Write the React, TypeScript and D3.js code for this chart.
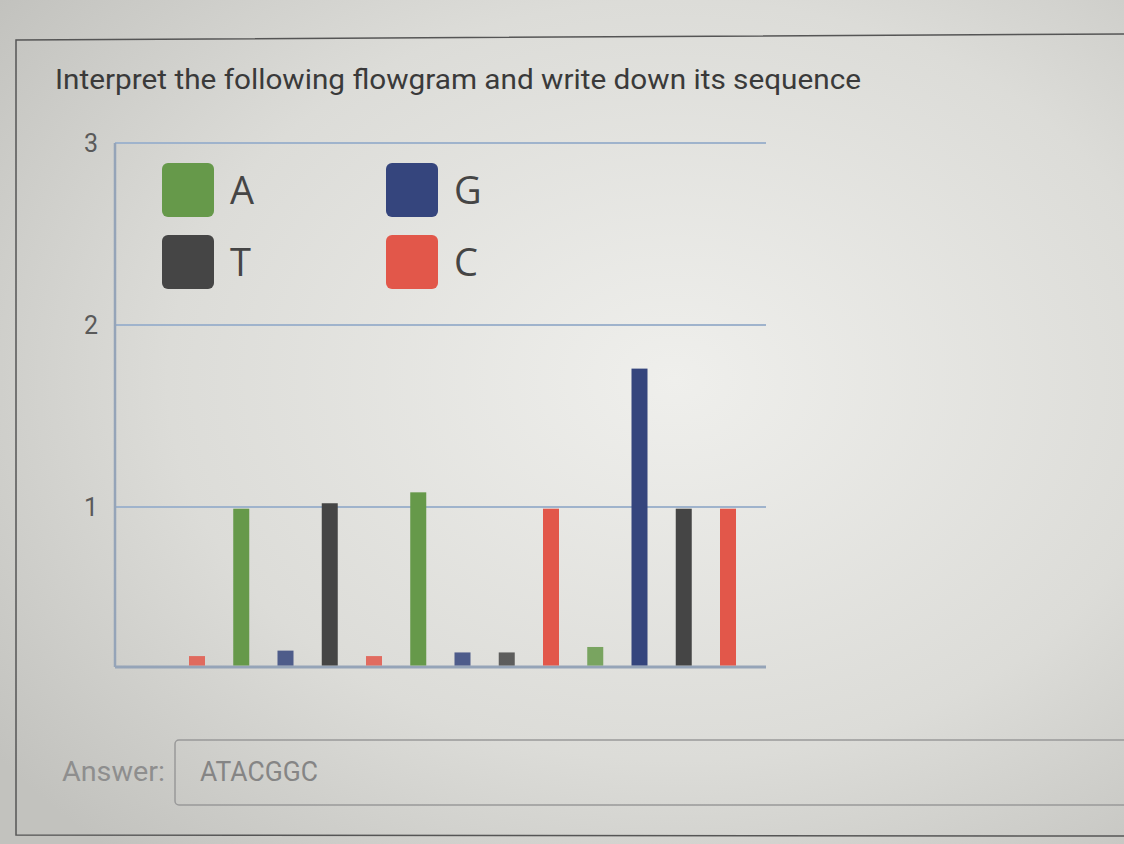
import { scaleLinear } from "d3";

// flow order and signal heights
const flowBases = ["C", "A", "G", "T", "C", "A", "G", "T", "C", "A", "G", "T", "C"];
const flowValues = [0.18, 0.99, 0.21, 1.02, 0.18, 1.08, 0.2, 0.2, 0.99, 0.23, 1.76, 0.99, 0.99];
const yTicks = [1, 2, 3];
const legendBases = ["A", "T", "G", "C"];
const baseColors: Record<string, string> = {
  A: "#66994a",
  T: "#454545",
  G: "#35457d",
  C: "#e2574a",
};
const titleText = "Interpret the following flowgram and write down its sequence";
const answerText = "ATACGGC";

export default function App() {
  const width = 1124;
  const height = 844;
  const plotLeft = 115;
  const plotRight = 766;
  const baseline = 667;

  const x = scaleLinear([0, flowBases.length - 1], [197, 728]);
  const y = scaleLinear([0.12, 3], [baseline, 143]);
  const barW = 16;

  return (
    <svg
      width={width}
      height={height}
      style={{ position: "absolute", left: 0, top: 0 }}
      fontFamily="Roboto, 'Noto Sans', sans-serif"
    >
      <defs>
        <radialGradient id="bg" cx="0.6" cy="0.45" r="0.75">
          <stop offset="0" stopColor="#efefec" />
          <stop offset="0.6" stopColor="#dcdcd8" />
          <stop offset="1" stopColor="#c2c2be" />
        </radialGradient>
      </defs>
      <rect width={width} height={height} fill="url(#bg)" />

      {/* question frame */}
      <path
        d={`M${width} 34 L16 40 L16 835 L${width} 836`}
        fill="none"
        stroke="#555"
        strokeWidth={1.5}
      />

      <text x={55} y={89} fontSize={28} fill="#3a3a3a" textLength={806} lengthAdjust="spacingAndGlyphs">
        {titleText}
      </text>

      {/* grid */}
      {yTicks.map((t) => (
        <g key={t}>
          <line x1={plotLeft} x2={plotRight} y1={y(t)} y2={y(t)} stroke="#9fb3cc" strokeWidth={2} />
          <text
            x={91}
            y={y(t)}
            dy="0.35em"
            textAnchor="middle"
            fontSize={25}
            fill="#5a5a5a"
          >
            {t}
          </text>
        </g>
      ))}
      <line x1={plotLeft} x2={plotLeft} y1={y(3)} y2={baseline} stroke="#95a4b8" strokeWidth={2.5} />
      <line x1={plotLeft} x2={plotRight} y1={baseline} y2={baseline} stroke="#95a4b8" strokeWidth={3} />

      {/* bars */}
      {flowValues.map((v, i) => (
        <rect
          key={i}
          x={x(i) - barW / 2}
          y={y(v)}
          width={barW}
          height={baseline - 1.5 - y(v)}
          fill={baseColors[flowBases[i]]}
          opacity={flowValues[i] < 0.5 ? 0.85 : 1}
        />
      ))}

      {/* legend */}
      {legendBases.map((b, i) => {
        const col = Math.floor(i / 2);
        const row = i % 2;
        const lx = 162 + col * 224;
        const ly = 163 + row * 72;
        return (
          <g key={b}>
            <rect x={lx} y={ly} width={52} height={54} rx={6} fill={baseColors[b]} />
            <text x={lx + 68} y={ly + 41} fontSize={38} fill="#454545" fontFamily="'Open Sans', sans-serif">
              {b}
            </text>
          </g>
        );
      })}

      {/* answer field */}
      <text x={62} y={781} fontSize={27} fill="#8e8e8e" textLength={103} lengthAdjust="spacingAndGlyphs">
        Answer:
      </text>
      <rect x={175} y={740} width={980} height={65} rx={4} fill="none" stroke="#999" strokeWidth={1.5} />
      <text x={200} y={781} fontSize={27} fill="#858585" textLength={118} lengthAdjust="spacingAndGlyphs">
        {answerText}
      </text>
    </svg>
  );
}
